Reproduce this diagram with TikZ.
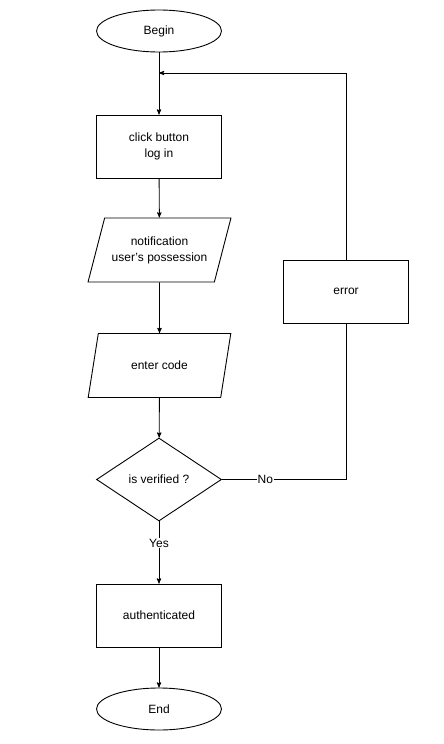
\documentclass[tikz,border=0pt]{standalone}
\usepackage{fontspec}
\setmainfont{Liberation Sans}
\usetikzlibrary{arrows,positioning,shapes.geometric}
\tikzset{
	>=stealth',
}
\begin{document}
\begin{tikzpicture}[x=1pt,y=-1pt,line width=0.9pt,
font=\fontsize{12}{16}\selectfont,
terminal/.style = {ellipse, draw, minimum width=125pt, minimum height=42pt, inner sep=0},
process/.style = {rectangle, draw, minimum width=125pt, minimum height=63pt, align=center, inner sep=0},
io/.style = {trapezium, trapezium left angle=62, trapezium right angle=118, trapezium stretches=true, draw, minimum width=143pt, minimum height=64pt, align=center, inner sep=0},
decision/.style = {diamond, draw, minimum width=125pt, minimum height=83pt, aspect=1.5, inner sep=0},
label/.style = {fill=white, inner sep=1pt}]
\useasboundingbox (0,0) rectangle (444,744);
\node[terminal] (begin) at (159,31) {Begin};
\node[process] (login) at (159,146.5) {click button\\log in};
\node[io] (notify) at (159.5,250) {notification\\user's possession};
\node[io] (entercode) at (159.5,365.5) {enter code};
\node[decision] (verified) at (159,479.5) {is verified ?};
\node[process] (error) at (346,291.5) {error};
\node[process] (auth) at (159,615.5) {authenticated};
\node[terminal] (end) at (159,709) {End};
\coordinate (join) at (159,73);
\draw[->] (begin) -- (login);
\draw[->] (login) -- (notify);
\draw[->] (notify) -- (entercode);
\draw[->] (entercode) -- (verified);
\draw[->] (verified) -- node[label,pos=0.35] {Yes} (auth);
\draw[->] (auth) -- (end);
\draw (verified.east) -- node[label,pos=0.35] {No} (verified.east -| error.south) -- (error.south);
\draw[->] (error.north) -- (error.north |- join) -- (join);
\end{tikzpicture}
\end{document}
